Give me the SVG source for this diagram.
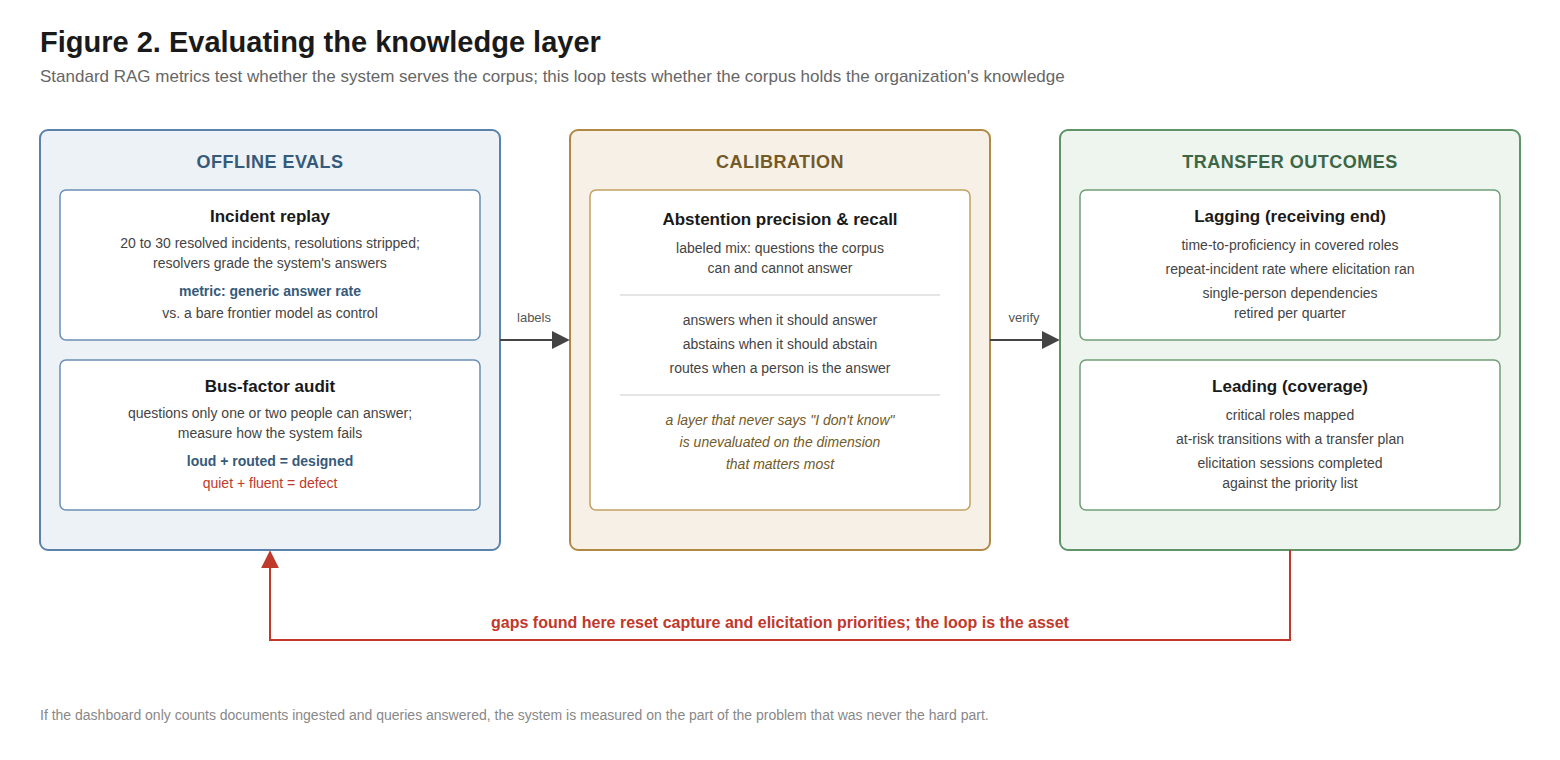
<svg xmlns="http://www.w3.org/2000/svg" width="1560" height="760" viewBox="0 0 1560 760">
<style>
text{font-family:"Liberation Sans",Arial,sans-serif}
.t{font-size:29px;font-weight:bold;fill:#1a1a1a}
.sub{font-size:17px;fill:#666}
.h{font-size:18px;font-weight:bold;text-anchor:middle;letter-spacing:0.5px}
.ct{font-size:17px;font-weight:bold;fill:#1a1a1a;text-anchor:middle}
.b{font-size:14px;fill:#444;text-anchor:middle}
.card{fill:#fff;stroke-width:1.5}
.lbl{font-size:13px;fill:#555;text-anchor:middle}
.foot{font-size:14px;fill:#888}
</style>
<defs>
<marker id="ah" viewBox="0 0 10 10" refX="9" refY="5" markerWidth="18" markerHeight="18" markerUnits="userSpaceOnUse" orient="auto"><path d="M0,0L10,5L0,10z" fill="#444"/></marker>
<marker id="rh" viewBox="0 0 10 10" refX="9" refY="5" markerWidth="18" markerHeight="18" markerUnits="userSpaceOnUse" orient="auto"><path d="M0,0L10,5L0,10z" fill="#c0392b"/></marker>
</defs>
<rect width="1560" height="760" fill="#fff"/>
<text class="t" x="40" y="52">Figure 2. Evaluating the knowledge layer</text>
<text class="sub" x="40" y="82">Standard RAG metrics test whether the system serves the corpus; this loop tests whether the corpus holds the organization's knowledge</text>

<g id="offline">
<rect x="40" y="130" width="460" height="420" rx="8" fill="#edf2f7" stroke="#5a82aa" stroke-width="2"/>
<text class="h" x="270" y="168" fill="#355a7a">OFFLINE EVALS</text>
<rect class="card" x="60" y="190" width="420" height="150" rx="6" stroke="#6a8fb5"/>
<text class="ct" x="270" y="222">Incident replay</text>
<text class="b" x="270" y="248">20 to 30 resolved incidents, resolutions stripped;</text>
<text class="b" x="270" y="268">resolvers grade the system's answers</text>
<text class="b" x="270" y="296" style="font-weight:bold;fill:#355a7a">metric: generic answer rate</text>
<text class="b" x="270" y="318">vs. a bare frontier model as control</text>
<rect class="card" x="60" y="360" width="420" height="150" rx="6" stroke="#6a8fb5"/>
<text class="ct" x="270" y="392">Bus-factor audit</text>
<text class="b" x="270" y="418">questions only one or two people can answer;</text>
<text class="b" x="270" y="438">measure how the system fails</text>
<text class="b" x="270" y="466" style="font-weight:bold;fill:#355a7a">loud + routed = designed</text>
<text class="b" x="270" y="488" style="fill:#c0392b">quiet + fluent = defect</text>
</g>

<g id="calibration">
<rect x="570" y="130" width="420" height="420" rx="8" fill="#f7f0e6" stroke="#b08a45" stroke-width="2"/>
<text class="h" x="780" y="168" fill="#735a28">CALIBRATION</text>
<rect class="card" x="590" y="190" width="380" height="320" rx="6" stroke="#c4a060"/>
<text class="ct" x="780" y="225">Abstention precision &amp; recall</text>
<text class="b" x="780" y="253">labeled mix: questions the corpus</text>
<text class="b" x="780" y="273">can and cannot answer</text>
<line x1="620" y1="295" x2="940" y2="295" stroke="#ddd" stroke-width="1.5"/>
<text class="b" x="780" y="325">answers when it should answer</text>
<text class="b" x="780" y="349">abstains when it should abstain</text>
<text class="b" x="780" y="373">routes when a person is the answer</text>
<line x1="620" y1="395" x2="940" y2="395" stroke="#ddd" stroke-width="1.5"/>
<text class="b" x="780" y="425" style="font-style:italic;fill:#735a28">a layer that never says "I don't know"</text>
<text class="b" x="780" y="447" style="font-style:italic;fill:#735a28">is unevaluated on the dimension</text>
<text class="b" x="780" y="469" style="font-style:italic;fill:#735a28">that matters most</text>
</g>

<g id="transfer">
<rect x="1060" y="130" width="460" height="420" rx="8" fill="#eef5ee" stroke="#5f9468" stroke-width="2"/>
<text class="h" x="1290" y="168" fill="#3d6645">TRANSFER OUTCOMES</text>
<rect class="card" x="1080" y="190" width="420" height="150" rx="6" stroke="#6f9e77"/>
<text class="ct" x="1290" y="222">Lagging (receiving end)</text>
<text class="b" x="1290" y="250">time-to-proficiency in covered roles</text>
<text class="b" x="1290" y="274">repeat-incident rate where elicitation ran</text>
<text class="b" x="1290" y="298">single-person dependencies</text>
<text class="b" x="1290" y="318">retired per quarter</text>
<rect class="card" x="1080" y="360" width="420" height="150" rx="6" stroke="#6f9e77"/>
<text class="ct" x="1290" y="392">Leading (coverage)</text>
<text class="b" x="1290" y="420">critical roles mapped</text>
<text class="b" x="1290" y="444">at-risk transitions with a transfer plan</text>
<text class="b" x="1290" y="468">elicitation sessions completed</text>
<text class="b" x="1290" y="488">against the priority list</text>
</g>

<g id="connectors">
<line x1="500" y1="340" x2="568" y2="340" stroke="#444" stroke-width="2" marker-end="url(#ah)"/>
<text class="lbl" x="534" y="322">labels</text>
<line x1="990" y1="340" x2="1058" y2="340" stroke="#444" stroke-width="2" marker-end="url(#ah)"/>
<text class="lbl" x="1024" y="322">verify</text>
<path d="M1290,550 V640 H270 V552" fill="none" stroke="#c0392b" stroke-width="2" marker-end="url(#rh)"/>
<text x="780" y="628" text-anchor="middle" style="font-size:16px;font-weight:bold;fill:#c0392b">gaps found here reset capture and elicitation priorities; the loop is the asset</text>
</g>

<text class="foot" x="40" y="720">If the dashboard only counts documents ingested and queries answered, the system is measured on the part of the problem that was never the hard part.</text>
</svg>
